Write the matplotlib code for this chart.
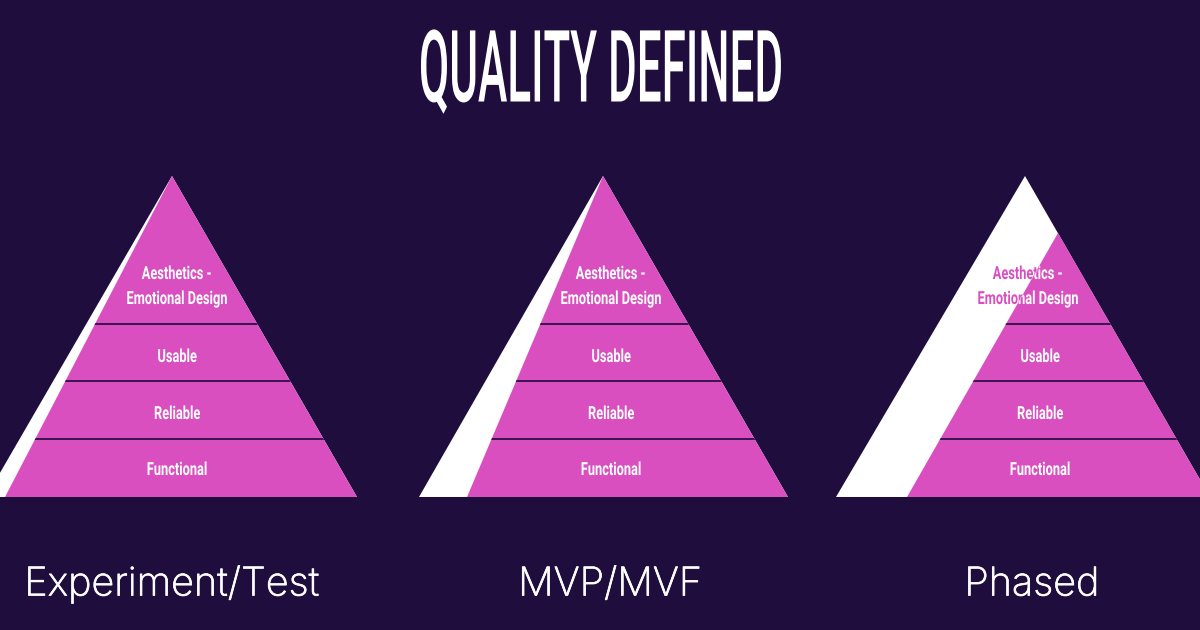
import matplotlib
matplotlib.use('Agg')
import matplotlib.pyplot as plt
import matplotlib.patheffects as pe
from matplotlib.patches import Polygon
from matplotlib.transforms import Affine2D

# Pyramid outlines in pixels
apex_x = [172, 603, 1025]
white_left = [-14, 419, 836]
pink_left = [5, 467, 907]
pink_right = [357, 788, 1210]
apex_y = 176
base_y = 497
# third pyramid has its pink part cut below the top
pink_top_cut = (1058, 233)

layer_lines = [323.7, 381, 438.5]

label_top = 'Aesthetics -'
label_top2 = 'Emotional Design'
layer_labels = ['Usable', 'Reliable', 'Functional']
label_y_top = [272, 297]
label_y = [355, 412, 468]
top_label_x = [177, 611, 1028]
layer_label_x = [177, 611, 1040]

titles = ['Experiment/Test', 'MVP/MVF', 'Phased']
title_x = [172, 610, 1032]

BG = '#1e0d3d'
PINK = '#d94fc0'
LINE = '#2a1045'


class Squeeze(pe.AbstractPathEffect):
    # narrows the glyphs around the centre of the line, there is no condensed font installed
    def __init__(self, sx):
        super().__init__()
        self.sx = sx

    def draw_path(self, renderer, gc, tpath, affine, rgbFace=None):
        mid = tpath.get_extents().x0 + tpath.get_extents().width / 2
        squeeze = Affine2D().translate(-mid, 0).scale(self.sx, 1).translate(mid, 0)
        renderer.draw_path(gc, tpath, squeeze + affine, rgbFace)


fig = plt.figure(figsize=(12, 6.3), dpi=100, facecolor=BG)
ax = fig.add_axes([0, 0, 1, 1])
ax.set_xlim(0, 1200)
ax.set_ylim(630, 0)
ax.axis('off')

ax.text(601, 64, 'QUALITY DEFINED', color='white', fontsize=72, family='Roboto', weight='medium',
        ha='center', va='center_baseline', path_effects=[Squeeze(0.44)])


def small_label(x, y, s, color, clip=None):
    t = ax.text(x, y, s, color=color, fontsize=13, family='Roboto', weight='bold',
                ha='center', va='center_baseline', path_effects=[Squeeze(0.71)], zorder=5)
    if clip is not None:
        t.set_clip_on(True)
        t.set_clip_path(clip)


for i in range(3):
    white_pts = [(apex_x[i], apex_y), (white_left[i], base_y), (pink_right[i], base_y)]
    white = Polygon(white_pts, closed=True, fc='white', ec='none', zorder=1)
    ax.add_patch(white)

    if i == 2:
        pink_pts = [pink_top_cut, (pink_left[i], base_y), (pink_right[i], base_y)]
    else:
        pink_pts = [(apex_x[i], apex_y), (pink_left[i], base_y), (pink_right[i], base_y)]
    pink = Polygon(pink_pts, closed=True, fc=PINK, ec='none', zorder=2)
    ax.add_patch(pink)

    for y in layer_lines:
        ln = ax.plot([0, 1200], [y, y], color=LINE, lw=1.3, zorder=3)[0]
        ln.set_clip_path(pink)

    for y, s in zip(label_y_top, [label_top, label_top2]):
        if i == 2:
            small_label(top_label_x[i], y, s, 'white', clip=pink)
            # same text in pink where it runs over the white band
            band = Polygon([(apex_x[i], apex_y), (white_left[i], base_y), (pink_left[i], base_y), pink_top_cut],
                           closed=True, transform=ax.transData)
            small_label(top_label_x[i], y, s, PINK, clip=band)
        else:
            small_label(top_label_x[i], y, s, 'white')
    for y, s in zip(label_y, layer_labels):
        small_label(layer_label_x[i], y, s, 'white')

    ax.text(title_x[i], 595.5, titles[i], color='white', fontsize=28.5, family='Inter', weight='light',
            ha='center', va='baseline',
            path_effects=[pe.withStroke(linewidth=0.5, foreground='white')])

fig.savefig('out.png', dpi=100, facecolor=BG)
